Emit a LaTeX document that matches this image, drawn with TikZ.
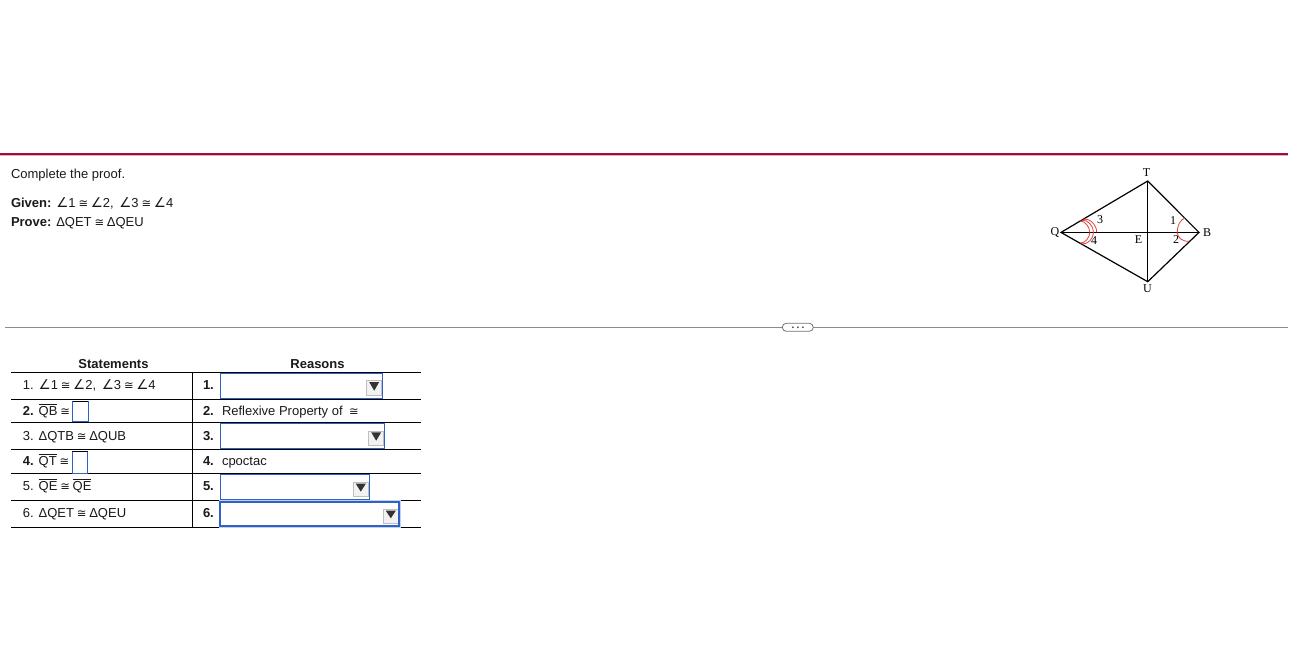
\documentclass[tikz,border=0pt]{standalone}
\usepackage{fontspec}
\setmainfont{Liberation Sans}
\newfontfamily\symf{DejaVu Sans}
\newfontfamily\geof{Liberation Serif}
\newcommand{\cngr}{{\kern2.9pt\symf\fontsize{11.5}{12}\selectfont≅\kern2.7pt}}
\newcommand{\ang}{{\symf\fontsize{13.5}{12}\selectfont∠}}
\newcommand{\tri}{Δ}
\newcommand{\seg}[1]{\leavevmode\hbox{\vbox{\hrule height 0.6pt \kern 1pt\hbox{#1}}}}
\definecolor{rulered}{HTML}{B0063F}
\definecolor{boxblue}{HTML}{2F62C4}
\definecolor{txt}{HTML}{1A1A1A}
\definecolor{arcred}{HTML}{E2403F}
\tikzset{
 txtnode/.style={anchor=base west,inner sep=0pt,outer sep=0pt,font=\fontsize{13}{15}\selectfont,text=txt},
 headnode/.style={anchor=base,inner sep=0pt,font=\bfseries\fontsize{13}{15}\selectfont,text=txt},
 rowline/.style={draw=black,line width=0.9pt},
 dropbox/.style={draw=boxblue,line width=1pt,fill=white},
 focusbox/.style={draw=boxblue,line width=1.8pt,fill=white},
 btn/.style={draw=black!25,line width=0.6pt,fill=black!5},
 tipfill/.style={fill=black!80},
 inbox/.style={draw=boxblue,line width=1pt,fill=white},
 geoline/.style={draw=black,line width=1.2pt},
 redarc/.style={draw=arcred,line width=0.8pt},
 geolabel/.style={inner sep=0pt,font=\geof\fontsize{12}{14}\selectfont,text=black},
}
\newcommand{\dropdown}[5]{% name x1 y1 x2 y2
 \path[dropbox] (#2,#3) rectangle (#4,#5);
 \path[btn] ({#4-16.5},{#3+7.7}) rectangle ({#4-1},{#5-3});
 \path[tipfill] ({#4-13.5},{#3+9}) -- ({#4-3.5},{#3+9}) -- ({#4-8.5},{#5-8}) -- cycle;
 \coordinate (#1) at (#2,#3);
}
\begin{document}
\begin{tikzpicture}[x=1pt,y=-1pt]
\useasboundingbox (0,0) rectangle (1290,646);
\fill[white] (0,0) rectangle (1290,646);
% top rule
\coordinate (ra) at (0,154); \coordinate (rb) at (1288,154);
\draw[draw=black!25,line width=1pt] ([yshift=-1.3pt]ra) -- ([yshift=-1.3pt]rb);
\draw[draw=rulered,line width=1.6pt] (ra) -- (rb);
% texts
\node[txtnode] (t1) at (11,178) {Complete the proof.};
\node[txtnode] (t2) at (11,207) {\textbf{Given:} \ang1\cngr\ang2,\kern2pt{} \ang3\cngr\ang4};
\node[txtnode] (t3) at (11,226) {\textbf{Prove:} \tri QET\cngr\tri QEU};
% separator
\coordinate (sa) at (5,327); \coordinate (sb) at (1288,327);
\draw[draw=black!45,line width=0.7pt] (sa) -- (sb);
\node[draw=black!55,fill=white,line width=0.8pt,rounded corners=4pt,minimum width=31pt,minimum height=8pt,inner sep=0pt] (pill) at (797.8,327.3) {};
\foreach \dx in {-5,0,5}{\fill[black!70] ([xshift=\dx pt]pill.center) circle (1pt);}
% table
\node[headnode] (hs) at (113.5,368) {Statements};
\node[headnode] (hr) at (317.5,368) {Reasons};
\foreach \y in {372.7,399.3,422.3,449,473.3,500.3,527}{\draw[rowline] (11,\y) -- (421,\y);}
\draw[rowline] (192.7,372.7) -- (192.7,527);
% statements
\node[txtnode] (s1) at (23,389) {1. \ang1\cngr\ang2,\kern2pt{} \ang3\cngr\ang4};
\node[txtnode] (s2) at (23,415) {\textbf{2.} \seg{QB}\cngr};
\node[txtnode] (s3) at (23,440) {3. \tri QTB\cngr\tri QUB};
\node[txtnode] (s4) at (23,465) {\textbf{4.} \seg{QT}\cngr};
\node[txtnode] (s5) at (23,490) {5. \seg{QE}\cngr\seg{QE}};
\node[txtnode] (s6) at (23,517) {6. \tri QET\cngr\tri QEU};
\path[inbox] (72.7,401) rectangle (88.3,421.7);
\draw[black,line width=1pt] (72.7,401) -- (88.3,401);
\path[inbox] (72,451.7) rectangle (87.7,473.7);
\draw[black,line width=1pt] (72,451.7) -- (87.7,451.7);
% reasons
\foreach \n/\y in {1/389,2/415,3/440,4/465,5/490,6/517}{\node[txtnode] (r\n) at (203,\y) {\textbf{\n.}};}
\node[txtnode] (rt2) at (222,415) {Reflexive Property of \cngr};
\node[txtnode] (rt4) at (222,465) {cpoctac};
\dropdown{d1}{220.3}{373}{382.7}{398.7}
\dropdown{d3}{220.3}{423.3}{384.7}{448.7}
\dropdown{d5}{220.3}{474.7}{369.3}{499.7}
\path[draw=boxblue!30,line width=3pt] (220,501.7) rectangle (399.3,526.3);
\dropdown{d6}{220}{501.7}{399.3}{526.3}
\path[focusbox,fill=none] (220,501.7) rectangle (399.3,526.3);
% geometry
\coordinate (Q) at (1061,232.4);
\coordinate (T) at (1147.7,181);
\coordinate (B) at (1199,232.4);
\coordinate (U) at (1147.7,281.7);
\draw[geoline] (Q) -- (T) -- (B) -- (U) -- cycle;
\draw[geoline] (Q) -- (B);
\draw[geoline] (T) -- (U);
% angle marks at Q
\draw[redarc] (1096.7,232.4) .. controls (1096.7,225) and (1090,218) .. (1083,219);
\draw[redarc] (1093.5,232.4) .. controls (1093.5,226) and (1088,219.5) .. (1081.5,220);
\draw[redarc] (1089.8,232.4) .. controls (1089.8,227) and (1085,221) .. (1080,220.8);
\draw[redarc] (1093.5,232.4) .. controls (1093.5,238.5) and (1088,244.5) .. (1081.7,244);
\draw[redarc] (1089.8,232.4) .. controls (1089.8,237.5) and (1085,243.5) .. (1080,243);
% angle marks at B
\draw[redarc] (1177.3,232.4) .. controls (1177.3,225) and (1180,220) .. (1185,218);
\draw[redarc] (1177.3,232.4) .. controls (1177.3,237) and (1182,242) .. (1189.3,241.2);
\node[geolabel] (lT) at (1146.5,172.5) {T};
\node[geolabel] (lQ) at (1055,232) {Q};
\node[geolabel] (lB) at (1207,232.5) {B};
\node[geolabel] (lU) at (1147.5,288.5) {U};
\node[geolabel] (lE) at (1138.5,240) {E};
\node[geolabel] (l3) at (1100,219.5) {3};
\node[geolabel] (l4) at (1094,241) {4};
\node[geolabel] (l1) at (1173,221) {1};
\node[geolabel] (l2) at (1176,240) {2};
\end{tikzpicture}
\end{document}
